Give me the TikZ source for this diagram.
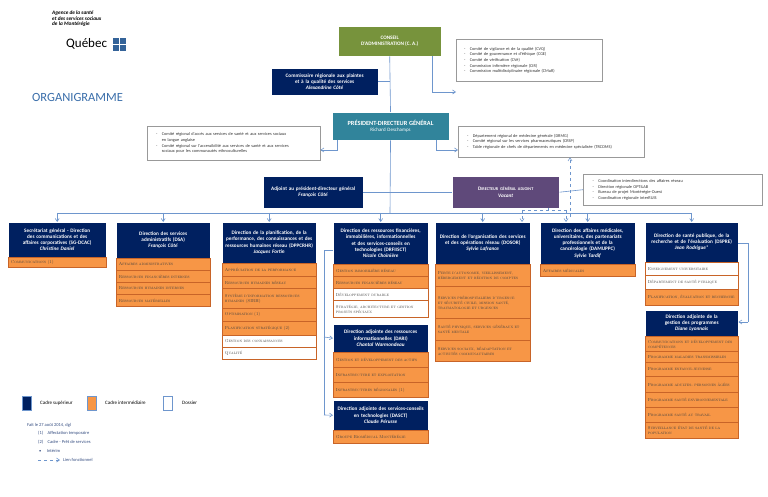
\documentclass[tikz,border=0pt]{standalone}
\usepackage{fontspec}
\newfontfamily\carl{Carlito}
\usetikzlibrary{arrows.meta}
\definecolor{navy}{RGB}{0,32,96}
\definecolor{orng}{RGB}{247,150,70}
\definecolor{orbd}{RGB}{200,100,40}
\definecolor{teal}{RGB}{49,132,155}
\definecolor{purp}{RGB}{95,73,122}
\definecolor{olive}{RGB}{119,147,60}
\definecolor{lnk}{RGB}{110,150,205}
\definecolor{ttl}{RGB}{58,110,170}
\hyphenpenalty=10000 \exhyphenpenalty=10000
\newcommand\bx[6]{\node[#1,anchor=north west,minimum width=#4pt,minimum height=#5pt,text width=#4pt-5pt,inner xsep=2.5pt,inner ysep=1pt] (#2) at (#3) {#6};}
\tikzset{
 hdr/.style={draw=white,fill=navy,text=white,font=\carl\fontsize{5.2}{6.3}\selectfont\bfseries,align=center},
 orow/.style={draw=orbd,fill=orng,text=black!75,font=\fontsize{4.3}{5}\selectfont\scshape,align=left,line width=0.8pt},
 wrow/.style={draw=orbd,fill=white,text=black!75,font=\fontsize{4.3}{5}\selectfont\scshape,align=left,line width=0.8pt},
 lst/.style={draw=black!40,fill=white,text=black!80,font=\carl\fontsize{4.3}{5.6}\selectfont,align=left},
 cn/.style={draw=lnk,line width=0.6pt},
 ar/.style={cn,-{Straight Barb[length=3pt,width=4pt]}},
 da/.style={ar,dashed},
}
\begin{document}
\begin{tikzpicture}[x=1pt,y=-1pt]
\useasboundingbox (0,0) rectangle (768,497);
\fill[white] (0,0) rectangle (768,497);
% logo
\node[anchor=north west,font=\carl\fontsize{5.3}{5.4}\selectfont\bfseries\itshape,align=left,inner sep=0] (logo) at (52,11) {Agence de la santé\\et des services sociaux\\de la Montérégie};
\node[anchor=north west,font=\carl\fontsize{13}{13}\selectfont,inner sep=0] (qc) at (66,38) {Québec};
\foreach \xx/\yy [count=\i] in {113/38,120/38,113/45,120/45}
  \node[fill=ttl!90!black,minimum size=6pt,inner sep=0,anchor=north west] (fl\i) at (\xx,\yy) {};
\node[anchor=west,font=\carl\fontsize{12.5}{13}\selectfont,text=ttl,inner sep=0] (org) at (32,97) {ORGANIGRAMME};
% top
\node[draw=white,fill=olive,text=white,font=\carl\fontsize{5.2}{6.3}\selectfont\bfseries,align=center,minimum width=103pt,minimum height=30pt,anchor=north west] (ca) at (338,26) {CONSEIL\\D'ADMINISTRATION (C. A.)};
\node[lst,anchor=north west,minimum width=146pt,minimum height=42pt,text width=130pt,inner xsep=8pt] (com) at (456,39) {-\quad Comité de vigilance et de la qualité (CVQ)\\-\quad Comité de gouvernance et d'éthique (CGE)\\-\quad Comité de vérification (CVé)\\-\quad Commission infirmière régionale (CIR)\\-\quad Commission multidisciplinaire régionale (CMuR)};
\node[hdr,anchor=north west,minimum width=107pt,minimum height=27pt,text width=100pt] (cpl) at (271,68) {Commissaire régionale aux plaintes et à la qualité des services\\\textit{Alexandrine Côté}};
\node[hdr,fill=teal,anchor=north west,minimum width=116pt,minimum height=28pt,text width=110pt] (pdg) at (332,112) {\fontsize{6.3}{8}\selectfont PRÉSIDENT-DIRECTEUR GÉNÉRAL\\\mdseries\fontsize{5}{6}\selectfont Richard Deschamps};
\node[lst,anchor=north west,minimum width=173pt,minimum height=34pt,text width=155pt,inner xsep=9pt] (cl) at (147,126) {-\quad Comité régional d'accès aux services de santé et aux services sociaux\\\phantom{-\quad}en langue anglaise\\-\quad Comité régional sur l'accessibilité aux services de santé et aux services\\\phantom{-\quad}sociaux pour les communautés ethnoculturelles};
\node[lst,anchor=north west,minimum width=185pt,minimum height=31pt,text width=168pt,inner xsep=9pt] (cr) at (458,126) {-\quad Département régional de médecine générale (DRMG)\\-\quad Comité régional sur les services pharmaceutiques (CRSP)\\-\quad Table régionale de chefs de départements en médecine spécialisée (TRCDMS)};
\node[hdr,anchor=north west,minimum width=100pt,minimum height=32pt,text width=92pt] (adj) at (263,176) {Adjoint au président-directeur général\\\textit{François Côté}};
\node[hdr,fill=purp,anchor=north west,minimum width=107pt,minimum height=32pt,text width=100pt] (dga) at (452,176) {D{\fontsize{4.2}{6}\selectfont IRECTEUR GÉNÉRAL ADJOINT}\\\textit{Vacant}};
\node[lst,anchor=north west,minimum width=179pt,minimum height=31pt,text width=160pt,inner xsep=9pt] (crd) at (583,174) {-\quad Coordination interdirections des affaires réseau\\-\quad Direction régionale OPTILAB\\-\quad Bureau de projet Montérégie-Ouest\\-\quad Coordination régionale interRUIS};
% columns
\bx{hdr}{h1}{8,222}{98}{35}{Secrétariat général - Direction des communications et des affaires corporatives (SG-DCAC)\\\textit{Christine Daniel}}
\bx{orow}{r11}{8,257}{98}{10}{Communications (1)}
\bx{hdr}{h2}{116,222}{94}{36}{Direction des services administratifs (DSA)\\\textit{François Côté}\\[9pt]}
\bx{orow}{r21}{116,258}{94}{12}{Affaires administratives}
\bx{orow}{r22}{116,270}{94}{12}{Ressources financières internes}
\bx{orow}{r23}{116,282}{94}{12}{Ressources humaines internes}
\bx{orow}{r24}{116,294}{94}{12}{Ressources matérielles}
\bx{hdr}{h3}{222,222}{94}{41}{Direction de la planification, de la performance, des connaissances et des ressources humaines réseau (DPPCRHR)\\\textit{Jacques Fortin}}
\bx{orow}{r31}{222,263}{94}{13}{Appréciation de la performance}
\bx{orow}{r32}{222,276}{94}{12}{Ressources humaines réseau}
\bx{orow}{r33}{222,288}{94}{20}{Système d'information ressources humaines (SIRH)}
\bx{orow}{r34}{222,308}{94}{13}{Optimisation (1)}
\bx{orow}{r35}{222,321}{94}{14}{Planification stratégique (2)}
\bx{wrow}{r36}{222,335}{94}{12}{Gestion des connaissances}
\bx{wrow}{r37}{222,347}{94}{12}{Qualité}
\bx{hdr}{h4}{333,222}{95}{42}{Direction des ressources financières, immobilières, informationnelles et des services-conseils en technologies (DRFIISCT)\\\textit{Nicole Choinière}}
\bx{orow}{r41}{333,264}{95}{12}{Gestion immobilière réseau}
\bx{orow}{r42}{333,276}{95}{12}{Ressources financières réseau}
\bx{wrow}{r43}{333,288}{95}{12}{Développement durable}
\bx{wrow}{r44}{333,300}{95}{17}{Stratégie, architecture et gestion projets spéciaux}
\bx{hdr}{dari}{333,324}{95}{28}{Direction adjointe des ressources informationnelles (DARI)\\\textit{Chantal Warmondeau}}
\bx{orow}{r45}{333,352}{95}{15}{Gestion et développement des actifs}
\bx{orow}{r46}{333,367}{95}{15}{Infrastructure et exploitation}
\bx{orow}{r47}{333,382}{95}{15}{Infrastructures régionales (1)}
\bx{hdr}{dasct}{333,400}{95}{30}{Direction adjointe des services-conseils en technologies (DASCT)\\\textit{Claude Pérusse}}
\bx{orow}{r48}{333,430}{95}{13}{Groupe Biomédical Montérégie}
\bx{hdr}{h5}{435,222}{95}{42}{Direction de l'organisation des services et des opérations réseau (DOSOR)\\\textit{Sylvie Lafrance}\\[7pt]}
\bx{orow}{r51}{435,264}{95}{22}{Perte d'autonomie, vieillissement, hébergement et rédition de comptes}
\bx{orow}{r52}{435,286}{95}{32}{Services préhospitaliers d'urgence et sécurité civile, mission santé, traumatologie et urgences}
\bx{orow}{r53}{435,318}{95}{22}{Santé physique, services généraux et santé mentale}
\bx{orow}{r54}{435,340}{95}{21}{Services sociaux, réadaptation et activités communautaires}
\bx{hdr}{h6}{540,222}{95}{42}{Direction des affaires médicales, universitaires, des partenariats professionnels et de la cancérologie (DAMUPPC)\\\textit{Sylvie Tardif}}
\bx{orow}{r61}{540,264}{95}{12}{Affaires médicales}
\bx{hdr}{h7}{645,222}{93}{40}{Direction de santé publique, de la recherche et de l'évaluation (DSPRE)\\\textit{Jean Rodrigue*}\\[5pt]}
\bx{wrow}{r71}{645,262}{93}{13}{Enseignement universitaire}
\bx{wrow}{r72}{645,275}{93}{14}{Département de santé publique}
\bx{orow}{r73}{645,289}{93}{16}{Planification, évaluation et recherche}
\bx{hdr}{dagp}{645,310}{93}{26}{Direction adjointe de la gestion des programmes\\\textit{Diane Lyonnais}}
\bx{orow}{r74}{645,336}{93}{15}{Communications et développement des compétences}
\bx{orow}{r75}{645,351}{93}{11}{Programme maladies transmissibles}
\bx{orow}{r76}{645,362}{93}{14}{Programme enfance-jeunesse}
\bx{orow}{r77}{645,376}{93}{16}{Programme adultes- personnes âgées}
\bx{orow}{r78}{645,392}{93}{15}{Programme santé environnementale}
\bx{orow}{r79}{645,407}{93}{15}{Programme santé  au travail}
\bx{orow}{r710}{645,422}{93}{16}{Surveillance état de santé de la population}
% connectors
\coordinate (b0) at (390,213);
\draw[cn] (ca.south) -- (pdg.north);
\draw[cn] (cpl.east) -- (cpl.east -| ca.south);
\draw[ar] (ca.south -| 432,0) |- (com.west |- 0,92);
\draw[cn] (pdg.south) -- (b0);
\draw[ar] (pdg.south -| 337,0) |- (cl.east |- 0,150);
\draw[ar] (pdg.south -| 436,0) |- (cr.west |- 0,150);
\draw[cn] (adj.east) -- (adj.east -| b0);
\draw[cn] (dga.west) -- (dga.west -| b0);
\draw[cn] (dga.east) -- (crd.west);
\draw[cn] (h1.north |- b0) -- (h7.north |- b0);
\foreach \h in {h1,h2,h3,h4,h5,h6,h7} \draw[ar] (\h.north |- b0) -- (\h.north);
\draw[da] (570,217) -- (cr.south -| 570,0);
\draw[cn,dashed] (dga.south -| 548,0) -- (548,210);
\draw[cn,dashed] (522,210) -- (566,210);
\draw[da] (522,210) -- (h5.north -| 522,0);
\draw[da] (566,210) -- (h6.north -| 566,0);
\draw[cn] (h4.west |- 0,250) -- (324,250) -- (324,415);
\draw[ar] (324,337) -- (dari.west);
\draw[ar] (324,415) -- (dasct.west);
\draw[cn] (h7.east |- 0,243) -- (748,243) -- (748,322);
\draw[ar] (748,322) -- (dagp.east |- 0,322);
% legend
\tikzset{lg/.style={font=\carl\fontsize{5}{6}\selectfont,anchor=west,inner sep=0}}
\node[fill=navy,draw=lnk,minimum width=9pt,minimum height=14pt,inner sep=0] (k1) at (27,403) {};
\node[lg] (t1) at (40,403) {Cadre supérieur};
\node[fill=orng,draw=lnk,minimum width=9pt,minimum height=14pt,inner sep=0] (k2) at (92,403) {};
\node[lg] (t2) at (105,403) {Cadre intermédiaire};
\node[fill=white,draw=lnk,line width=0.8pt,minimum width=9pt,minimum height=14pt,inner sep=0] (k3) at (168,403) {};
\node[lg] (t3) at (182,403) {Dossier};
\tikzset{nt/.style={font=\carl\fontsize{4.5}{5.5}\selectfont,text=navy!80,anchor=west,inner sep=0}}
\node[nt] (n0) at (27,425) {Fait le 27 août 2014, dgl};
\node[nt] (n1) at (38,433) {(1)\quad Affectation temporaire};
\node[nt] (n2) at (38,442) {(2)\quad Cadre - Prêt de services};
\node[nt] (n3) at (38,451) {\ \textbullet\quad\ Intérim};
\coordinate (d0) at (38,460);
\coordinate (d1) at (60,460);
\draw[da] (d0) -- (d1);
\node[nt] (n4) at (63,460) {Lien fonctionnel};
\end{tikzpicture}
\end{document}
